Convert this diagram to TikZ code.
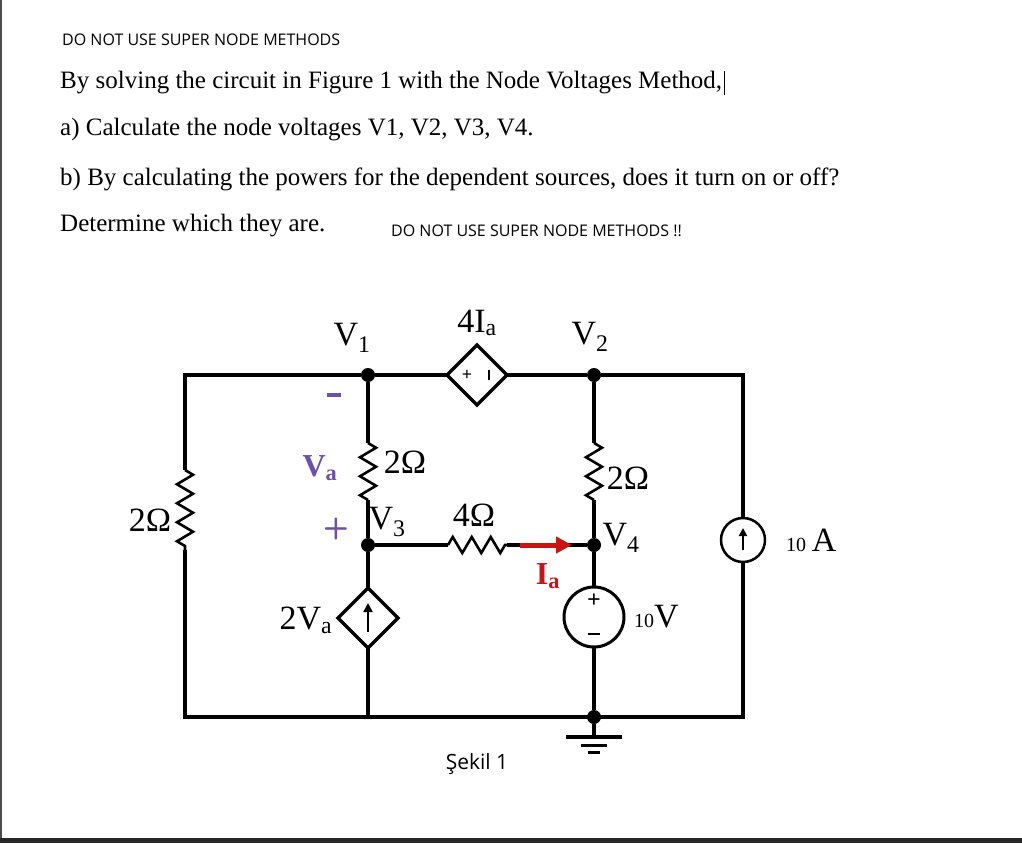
\documentclass[tikz,border=0pt]{standalone}
\usepackage{fontspec}
\setmainfont{Liberation Serif}
\newfontfamily\osans{Open Sans}
\usetikzlibrary{decorations.pathmorphing,arrows.meta}
\definecolor{vio}{RGB}{110,80,170}
\definecolor{redd}{RGB}{200,20,20}
\begin{document}
\begin{tikzpicture}[x=1pt,y=-1pt,
  wire/.style={line width=3.2pt},
  res/.style={line width=2.6pt,decorate,decoration={zigzag,segment length=19pt,amplitude=8pt,pre length=0pt,post length=0pt}},
  dotn/.style={circle,fill=black,inner sep=0pt,minimum size=14pt},
  lab/.style={font=\fontsize{34}{36}\selectfont,inner sep=0pt},
  hd/.style={font=\osans\fontsize{16}{18}\selectfont,anchor=west,inner sep=0pt},
  qt/.style={font=\fontsize{25}{28}\selectfont,anchor=west,inner sep=0pt}]
\useasboundingbox (0,0) rectangle (1022,843);
\fill[white] (0,0) rectangle (1022,843);
\draw[line width=2pt,gray!60!black] (1,0) -- (1,843);
\fill[black!85] (0,838) rectangle (1022,843);
% text
\node[hd] (h1) at (62,40) {DO NOT USE SUPER NODE METHODS};
\node[qt] (q1) at (60,83) {By solving the circuit in Figure 1 with the Node Voltages Method,};
\draw[line width=1pt] (q1.east)+(2,-12) -- +(2,12);
\node[qt] (q2) at (60,130) {a) Calculate the node voltages V1, V2, V3, V4.};
\node[qt] (q3) at (60,179) {b) By calculating the powers for the dependent sources, does it turn on or off?};
\node[qt] (q4) at (60,226) {Determine which they are.};
\node[hd] (h2) at (391,231) {DO NOT USE SUPER NODE METHODS !!};
% coordinates
\coordinate (TL) at (185,375); \coordinate (BL) at (185,717);
\coordinate (TR) at (743,375); \coordinate (BR) at (743,717);
\node[dotn] (n1) at (368,375) {}; \node[dotn] (n2) at (594,375) {};
\node[dotn] (n3) at (368,545) {}; \node[dotn] (n4) at (594,545) {};
\node[dotn] (g) at (594,717) {};
\coordinate (mb) at (368,717);
% wires
\draw[wire] (185,470) -- (TL) -- (n1) -- (447,375) (507,375) -- (n2) -- (TR) -- (743,518) (743,562) -- (BR) -- (BL) -- (185,550);
\draw[res] (185,470) -- (185,550);
% middle branch
\draw[wire] (n1) -- (368,443); \draw[res] (368,443) -- (368,500); \draw[wire] (368,500) -- (n3) -- (368,588);
\draw[wire] (368,648) -- (mb);
\draw[line width=3.5pt] (368,588) -- (398,618) -- (368,648) -- (338,618) -- cycle;
\draw[line width=2.5pt,-{Triangle[length=9pt,width=9pt]}] (368,632) -- (368,603);
% top dependent voltage source
\draw[line width=3.5pt] (447,375) -- (477,345) -- (507,375) -- (477,405) -- cycle;
\node[font=\bfseries\fontsize{18}{18}\selectfont] at (467,375) {+};
\draw[line width=2.5pt] (489,370) -- (489,380);
% right branch
\draw[wire] (n2) -- (594,443); \draw[res] (594,443) -- (594,500); \draw[wire] (594,500) -- (n4) -- (594,587);
\draw[line width=3pt] (594,617) circle (30);
\node[font=\bfseries\fontsize{24}{24}\selectfont] at (594,601) {+};
\draw[line width=2.5pt] (588,634) -- (600,634);
\draw[wire] (594,647) -- (g) -- (594,737);
\draw[line width=3.5pt] (566,737) -- (622,737);
\draw[line width=3pt] (581,745) -- (607,745);
\draw[line width=3pt] (588,752) -- (600,752);
% 4 ohm
\draw[wire] (n3) -- (448,545); \draw[res] (448,545) -- (507,545); \draw[wire] (507,545) -- (n4);
\draw[redd,line width=5pt,-{Triangle[length=16pt,width=16pt]}] (520,545) -- (572,545);
% current source
\draw[line width=2.5pt] (743,540) circle (22);
\draw[line width=2.2pt,-{Triangle[length=8pt,width=8pt]}] (743,550) -- (743,528);
% labels
\node[lab] at (352,338) {V\textsubscript{1}};
\node[lab] at (477,323) {4I\textsubscript{a}};
\node[lab] at (590,337) {V\textsubscript{2}};
\node[lab] at (150,520) {2Ω};
\node[lab] at (405,462) {2Ω};
\node[lab] at (628,478) {2Ω};
\node[lab] at (474,515) {4Ω};
\node[lab] at (387,522) {V\textsubscript{3}};
\node[lab] at (621,538) {V\textsubscript{4}};
\node[lab] at (306,620) {2V\textsubscript{a}};
\node[lab,text=vio,font=\bfseries\fontsize{32}{34}\selectfont] at (320,468) {V\textsubscript{a}};
\draw[vio,line width=3.5pt] (327,395) -- (341,395);
\node[lab,text=vio,font=\sffamily\bfseries\fontsize{30}{30}\selectfont] at (336,529) {+};
\node[lab,text=redd,font=\bfseries\fontsize{32}{34}\selectfont] at (548,576) {I\textsubscript{a}};
\node[lab,anchor=west] at (634,617) {{\fontsize{20}{20}\selectfont 10}V};
\node[lab,anchor=west] at (786,540) {{\fontsize{20}{20}\selectfont 10}\,A};
\node[font=\osans\fontsize{21}{22}\selectfont] at (477,764) {Şekil 1};
\end{tikzpicture}
\end{document}
